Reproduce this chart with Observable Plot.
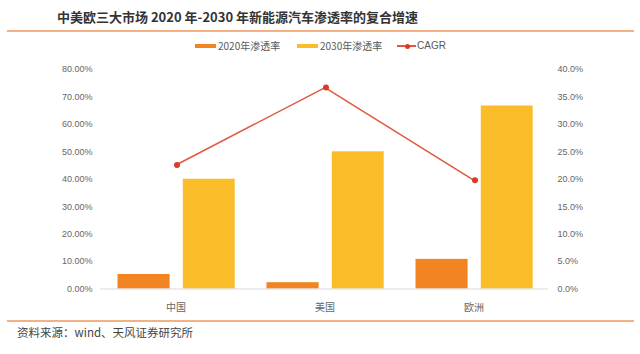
<!DOCTYPE html>
<html><head><meta charset="utf-8">
<script src="https://cdn.jsdelivr.net/npm/d3@7"></script>
<script src="https://cdn.jsdelivr.net/npm/@observablehq/plot@0.6"></script>
<style>
body{margin:0;background:#fff;}
#wrap{position:relative;width:640px;height:354px;overflow:hidden;font-family:"Liberation Sans","Noto Sans CJK SC",sans-serif;}
.abs{position:absolute;white-space:nowrap;}
#title{left:57px;top:8px;font-size:13px;line-height:18px;font-weight:bold;color:#333;font-family:"Noto Sans CJK SC",sans-serif;}
.rule{position:absolute;left:7px;width:627px;height:1.5px;background:#F4B183;}
.leg{font-size:10px;line-height:12px;color:#595959;top:40px;font-family:"Noto Sans CJK SC","Liberation Sans",sans-serif;}
.sw{position:absolute;height:4px;top:44px;}
#cap{left:17px;top:325px;font-size:11.5px;line-height:14px;color:#444;font-family:"Noto Sans CJK SC",sans-serif;}
#chart{position:absolute;left:0;top:55px;}
</style></head><body>
<div id="wrap">
  <div id="title" class="abs">中美欧三大市场 2020 年-2030 年新能源汽车渗透率的复合增速</div>
  <div class="rule" style="top:30px"></div>
  <div class="sw" style="left:195px;width:21px;background:#F28522"></div>
  <div class="abs leg" style="left:218px">2020年渗透率</div>
  <div class="sw" style="left:297px;width:21px;background:#FBBC2A"></div>
  <div class="abs leg" style="left:320px">2030年渗透率</div>
  <div class="abs" style="left:397px;top:45.3px;width:19px;height:1.5px;background:#E0583F"></div>
  <div class="abs" style="left:404.5px;top:43.5px;width:5px;height:5px;border-radius:50%;background:#D83B2B"></div>
  <div class="abs leg" style="left:417px;font-family:'Liberation Sans',sans-serif">CAGR</div>
  <div id="chart"></div>
  <div class="rule" style="top:320px"></div>
  <div id="cap" class="abs">资料来源：wind、天风证券研究所</div>
</div>
<script>
const categories = ["中国", "美国", "欧洲"];
const pen2020 = [5.3, 2.3, 10.8];
const pen2030 = [40.0, 50.0, 66.7];
const cagr = [22.6, 36.7, 19.8];
const leftTicks = [0, 10, 20, 30, 40, 50, 60, 70, 80];
const rightTicks = [0, 5, 10, 15, 20, 25, 30, 35, 40];

const rows = categories.map((c, i) => ({cat: c, p2020: pen2020[i], p2030: pen2030[i], cagr: cagr[i]}));

const chart = Plot.plot({
  width: 640, height: 260,
  marginLeft: 100, marginRight: 92, marginTop: 14, marginBottom: 26.5,
  x: {type: "band", domain: categories, padding: 0},
  y: {domain: [0, 80]},
  style: {fontFamily: "'Liberation Sans','Noto Sans CJK SC',sans-serif", fontSize: "9px", color: "#666", background: "transparent"},
  marks: [
    Plot.barY(rows, {x: "cat", y: "p2020", fill: "#F28522", insetLeft: 16.5, insetRight: 80.4}),
    Plot.barY(rows, {x: "cat", y: "p2030", fill: "#FBBC2A", insetLeft: 81.8, insetRight: 15.3}),
    Plot.ruleY([0], {stroke: "#d9d9d9"}),
    Plot.line(rows, {x: "cat", y: d => d.cagr * 2, stroke: "#E0583F", strokeWidth: 1.5}),
    Plot.dot(rows, {x: "cat", y: d => d.cagr * 2, r: 3, fill: "#D83B2B", dx: 1}),
    Plot.axisY(leftTicks, {anchor: "left", tickSize: 0, tickPadding: 8, tickFormat: d => d.toFixed(2) + "%", label: null}),
    Plot.axisY(rightTicks.map(v => v * 2), {anchor: "right", tickSize: 0, tickPadding: 9, tickFormat: d => (d / 2).toFixed(1) + "%", label: null}),
    Plot.axisX({tickSize: 0, tickPadding: 15, fontSize: 10, label: null, fontFamily: "'Noto Sans CJK SC',sans-serif"})
  ]
});
document.getElementById("chart").appendChild(chart);
</script>
</body></html>
